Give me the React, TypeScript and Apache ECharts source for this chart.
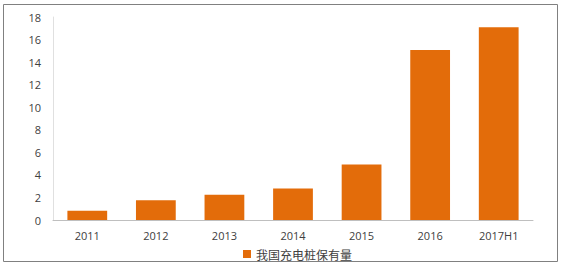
import React, { useEffect, useRef } from "react";
import * as echarts from "echarts";

const categories = ["2011", "2012", "2013", "2014", "2015", "2016", "2017H1"];
const values = [0.83, 1.75, 2.25, 2.79, 4.92, 15.07, 17.09];
const seriesName = "我国充电桩保有量";

export default function App() {
  const ref = useRef<HTMLDivElement>(null);
  useEffect(() => {
    document.body.style.margin = "0";
    const chart = echarts.init(ref.current!, null, { renderer: "svg" });
    chart.setOption({
      animation: false,
      backgroundColor: "#ffffff",
      textStyle: { fontFamily: "'Open Sans', 'Noto Sans CJK SC', sans-serif" },
      graphic: [
        {
          type: "rect",
          shape: { x: 3.5, y: 4.5, width: 554, height: 257 },
          style: { fill: "none", stroke: "#808080", lineWidth: 1 },
          silent: true,
        },
      ],
      grid: { left: 53, right: 28, top: 17, bottom: 44 },
      legend: {
        data: [seriesName],
        left: 238,
        top: 243,
        itemWidth: 8,
        itemHeight: 8,
        itemGap: 4,
        icon: "rect",
        textStyle: { fontSize: 12, color: "#404040", fontFamily: "'Noto Sans CJK SC', sans-serif" },
      },
      xAxis: {
        type: "category",
        data: categories,
        axisLine: { lineStyle: { color: "#bfbfbf" } },
        axisTick: { show: false },
        axisLabel: { color: "#404040", fontSize: 11, margin: 10 },
      },
      yAxis: {
        type: "value",
        min: 0,
        max: 18,
        interval: 2,
        axisLine: { show: true, lineStyle: { color: "#e0e0e0" } },
        axisTick: { show: false },
        splitLine: { show: false },
        axisLabel: { color: "#404040", fontSize: 11, margin: 12 },
      },
      series: [
        {
          name: seriesName,
          type: "bar",
          data: values,
          barWidth: "58%",
          itemStyle: { color: "#E36C0A" },
        },
      ],
    });
    return () => chart.dispose();
  }, []);
  return <div ref={ref} style={{ width: 561, height: 264 }} />;
}
